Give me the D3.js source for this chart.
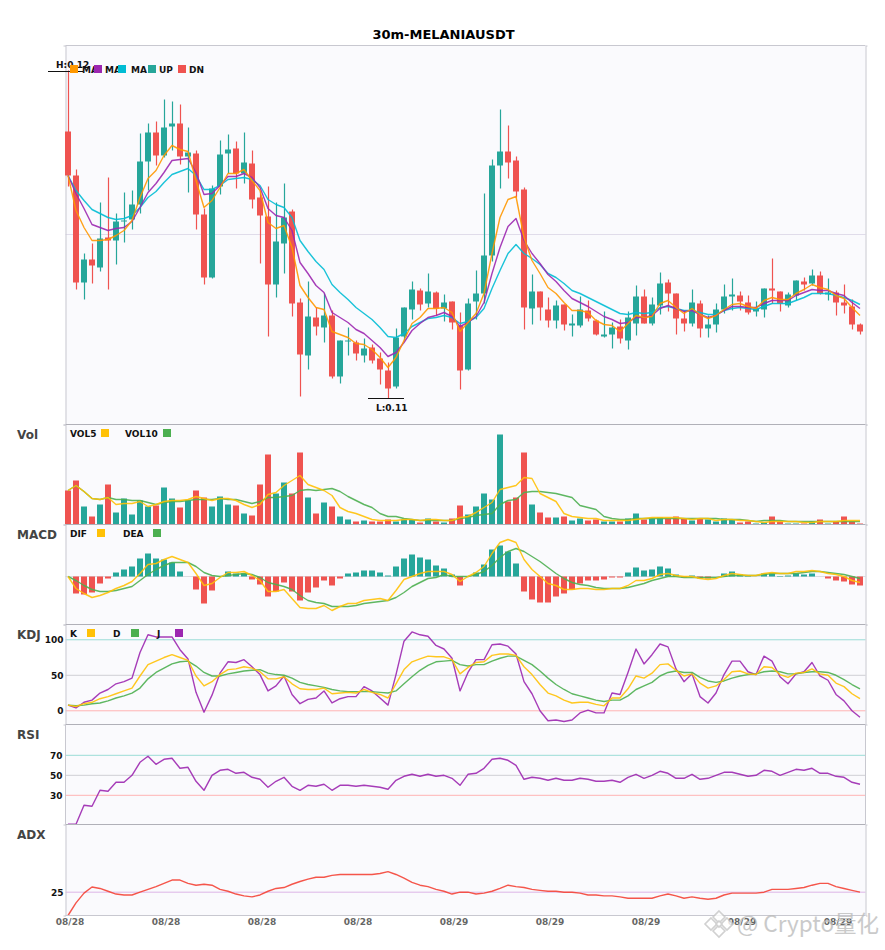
<!DOCTYPE html>
<html>
<head>
<meta charset="utf-8">
<script src="https://cdn.jsdelivr.net/npm/d3@7"></script>
<style>
  html, body { margin: 0; padding: 0; background: #fff; }
  svg { display: block; font-family: "DejaVu Sans", sans-serif; }
</style>
</head>
<body>
<svg id="chart"></svg>
<script>
const chartTitle = '30m-MELANIAUSDT';
const tickDates = ['08/28','08/28','08/28','08/28','08/29','08/29','08/29','08/29','08/29'];
const tickEvery = 12;

const openPrices = [0.11534,0.11446,0.11232,0.11278,0.11262,0.11322,0.11316,0.11354,0.11358,0.11388,0.11474,0.11532,0.11486,0.11544,0.11550,0.11484,0.11490,0.11368,0.11242,0.11424,0.11490,0.11500,0.11450,0.11470,0.11402,0.11364,0.11228,0.11310,0.11374,0.11192,0.11086,0.11162,0.11142,0.11166,0.11044,0.11114,0.11112,0.11086,0.11102,0.11080,0.11056,0.11024,0.11124,0.11178,0.11216,0.11190,0.11212,0.11180,0.11194,0.11146,0.11058,0.11194,0.11210,0.11286,0.11466,0.11494,0.11476,0.11418,0.11180,0.11214,0.11178,0.11156,0.11188,0.11146,0.11146,0.11176,0.11156,0.11124,0.11128,0.11144,0.11116,0.11150,0.11204,0.11150,0.11186,0.11232,0.11210,0.11160,0.11150,0.11190,0.11140,0.11148,0.11178,0.11204,0.11206,0.11192,0.11174,0.11178,0.11220,0.11214,0.11186,0.11206,0.11234,0.11230,0.11246,0.11208,0.11212,0.11192,0.11184,0.11148];
const closePrices = [0.11446,0.11232,0.11278,0.11266,0.11320,0.11316,0.11354,0.11356,0.11388,0.11474,0.11532,0.11486,0.11542,0.11550,0.11484,0.11492,0.11368,0.11242,0.11420,0.11488,0.11498,0.11450,0.11472,0.11398,0.11366,0.11228,0.11314,0.11362,0.11190,0.11088,0.11164,0.11144,0.11166,0.11044,0.11116,0.11116,0.11090,0.11100,0.11076,0.11058,0.11020,0.11122,0.11182,0.11218,0.11188,0.11214,0.11180,0.11192,0.11152,0.11056,0.11190,0.11210,0.11286,0.11466,0.11494,0.11472,0.11414,0.11182,0.11214,0.11182,0.11156,0.11186,0.11148,0.11150,0.11178,0.11160,0.11128,0.11128,0.11142,0.11120,0.11162,0.11204,0.11150,0.11188,0.11230,0.11210,0.11160,0.11150,0.11192,0.11140,0.11148,0.11178,0.11204,0.11208,0.11194,0.11172,0.11180,0.11220,0.11216,0.11190,0.11208,0.11236,0.11228,0.11246,0.11210,0.11212,0.11192,0.11186,0.11148,0.11134];
const highPrices = [0.11656,0.11458,0.11290,0.11310,0.11392,0.11442,0.11370,0.11412,0.11416,0.11530,0.11550,0.11554,0.11598,0.11594,0.11588,0.11542,0.11496,0.11380,0.11426,0.11516,0.11528,0.11514,0.11532,0.11496,0.11416,0.11424,0.11392,0.11430,0.11378,0.11200,0.11234,0.11182,0.11210,0.11176,0.11116,0.11142,0.11116,0.11120,0.11108,0.11092,0.11072,0.11140,0.11182,0.11234,0.11220,0.11250,0.11214,0.11208,0.11194,0.11172,0.11200,0.11256,0.11410,0.11478,0.11578,0.11546,0.11484,0.11422,0.11248,0.11214,0.11202,0.11196,0.11188,0.11168,0.11204,0.11196,0.11158,0.11174,0.11152,0.11158,0.11174,0.11226,0.11218,0.11202,0.11252,0.11238,0.11210,0.11176,0.11218,0.11196,0.11166,0.11190,0.11228,0.11240,0.11214,0.11206,0.11194,0.11220,0.11280,0.11214,0.11212,0.11236,0.11242,0.11258,0.11254,0.11240,0.11216,0.11228,0.11198,0.11150];
const lowPrices = [0.11424,0.11218,0.11198,0.11230,0.11254,0.11218,0.11268,0.11312,0.11338,0.11370,0.11416,0.11466,0.11482,0.11496,0.11468,0.11412,0.11338,0.11228,0.11240,0.11408,0.11450,0.11420,0.11430,0.11380,0.11270,0.11124,0.11202,0.11250,0.11164,0.11004,0.11058,0.11126,0.11112,0.11040,0.11030,0.11086,0.11076,0.11072,0.11070,0.11028,0.11000,0.11020,0.11116,0.11158,0.11176,0.11182,0.11166,0.11154,0.11138,0.11018,0.11056,0.11158,0.11190,0.11274,0.11420,0.11440,0.11402,0.11138,0.11148,0.11156,0.11142,0.11140,0.11136,0.11124,0.11142,0.11154,0.11126,0.11122,0.11100,0.11110,0.11098,0.11126,0.11150,0.11146,0.11168,0.11174,0.11128,0.11134,0.11144,0.11122,0.11122,0.11132,0.11170,0.11176,0.11176,0.11168,0.11164,0.11162,0.11190,0.11174,0.11182,0.11196,0.11216,0.11226,0.11208,0.11196,0.11166,0.11170,0.11138,0.11128];
const ma5 = [0.11446,0.11376,0.11342,0.11316,0.11316,0.11318,0.11326,0.11336,0.11356,0.11402,0.11440,0.11456,0.11486,0.11506,0.11498,0.11494,0.11436,0.11382,0.11396,0.11422,0.11450,0.11450,0.11458,0.11436,0.11416,0.11352,0.11340,0.11346,0.11302,0.11226,0.11202,0.11182,0.11178,0.11134,0.11128,0.11122,0.11110,0.11108,0.11098,0.11082,0.11062,0.11082,0.11116,0.11150,0.11162,0.11180,0.11180,0.11182,0.11172,0.11134,0.11152,0.11170,0.11210,0.11290,0.11362,0.11398,0.11404,0.11322,0.11276,0.11250,0.11222,0.11210,0.11192,0.11176,0.11176,0.11172,0.11156,0.11148,0.11146,0.11134,0.11150,0.11166,0.11162,0.11164,0.11190,0.11196,0.11182,0.11170,0.11180,0.11168,0.11160,0.11166,0.11178,0.11188,0.11190,0.11184,0.11180,0.11196,0.11202,0.11198,0.11198,0.11210,0.11218,0.11228,0.11222,0.11218,0.11206,0.11200,0.11182,0.11166];
const ma10 = [0.11446,0.11410,0.11380,0.11348,0.11342,0.11336,0.11340,0.11342,0.11354,0.11382,0.11412,0.11430,0.11452,0.11476,0.11478,0.11480,0.11452,0.11408,0.11410,0.11426,0.11444,0.11444,0.11450,0.11442,0.11422,0.11380,0.11366,0.11362,0.11336,0.11272,0.11250,0.11226,0.11212,0.11172,0.11162,0.11152,0.11138,0.11130,0.11116,0.11102,0.11084,0.11092,0.11112,0.11136,0.11150,0.11162,0.11166,0.11172,0.11164,0.11144,0.11152,0.11164,0.11192,0.11250,0.11302,0.11344,0.11360,0.11316,0.11290,0.11270,0.11248,0.11234,0.11216,0.11200,0.11192,0.11184,0.11174,0.11164,0.11158,0.11150,0.11152,0.11162,0.11162,0.11166,0.11180,0.11186,0.11180,0.11174,0.11176,0.11168,0.11162,0.11166,0.11176,0.11184,0.11184,0.11182,0.11182,0.11190,0.11196,0.11196,0.11196,0.11206,0.11212,0.11218,0.11216,0.11216,0.11210,0.11206,0.11192,0.11180];
const ma20 = [0.11446,0.11416,0.11396,0.11378,0.11370,0.11362,0.11358,0.11360,0.11366,0.11382,0.11402,0.11414,0.11432,0.11448,0.11454,0.11460,0.11446,0.11418,0.11418,0.11426,0.11438,0.11440,0.11442,0.11438,0.11426,0.11398,0.11388,0.11382,0.11362,0.11316,0.11294,0.11274,0.11258,0.11228,0.11212,0.11198,0.11182,0.11170,0.11158,0.11142,0.11124,0.11122,0.11130,0.11144,0.11152,0.11160,0.11162,0.11166,0.11162,0.11150,0.11154,0.11162,0.11180,0.11220,0.11256,0.11290,0.11308,0.11290,0.11280,0.11268,0.11250,0.11242,0.11230,0.11216,0.11210,0.11202,0.11194,0.11186,0.11178,0.11170,0.11168,0.11172,0.11170,0.11172,0.11182,0.11184,0.11180,0.11176,0.11176,0.11172,0.11168,0.11168,0.11176,0.11180,0.11182,0.11180,0.11178,0.11184,0.11190,0.11190,0.11190,0.11196,0.11202,0.11210,0.11210,0.11210,0.11206,0.11202,0.11196,0.11188];

const volumes = [34,44,18,8,20,40,12,26,10,24,18,19,37,26,17,24,34,27,18,28,20,19,11,9,40,70,31,42,31,72,27,11,22,18,8,5,3,4,3,3,5,3,5,5,2,6,3,2,6,19,10,18,31,25,90,23,27,72,20,12,7,7,8,4,6,4,5,3,3,3,6,11,5,6,7,6,8,6,4,6,5,3,6,5,2,3,1,2,8,3,1,1,1,3,5,1,3,8,3,1];
const vol5 = [34,39,33,26,25,27,20,21,21,23,18,20,23,24,24,25,28,26,24,26,26,24,20,17,20,30,32,39,44,49,40,37,34,29,17,13,11,8,5,4,4,4,5,5,4,5,5,4,4,7,8,12,17,22,35,37,39,47,46,31,27,23,11,8,7,6,6,4,4,4,4,5,6,7,7,7,7,6,5,6,6,4,5,5,4,4,3,2,3,3,3,3,2,2,3,3,3,4,4,4];
const vol10 = [34,39,33,26,25,27,25,25,24,24,22,20,22,23,23,24,25,25,25,26,25,25,23,21,23,27,27,28,29,34,35,34,35,36,33,28,24,20,17,11,8,8,6,5,4,4,4,4,4,6,7,9,10,11,20,24,25,32,33,33,32,31,29,27,19,17,15,8,6,5,5,6,6,6,6,6,6,6,6,6,6,6,5,5,5,4,3,4,4,4,3,3,3,3,3,3,3,3,3,3];

const macdHist = [0,-17,-18,-16,-7,-2,4,7,10,18,23,18,17,14,5,0,-13,-27,-14,0,5,3,3,-3,-8,-20,-15,-6,-15,-24,-16,-11,-4,-9,-2,3,4,6,6,4,1,10,18,22,19,17,11,8,2,-9,0,4,12,27,31,25,13,-15,-23,-26,-26,-20,-17,-13,-7,-4,-4,-3,-1,-1,4,9,6,7,10,8,2,-1,1,-2,-2,0,3,5,2,0.5,0,3,3,0.5,1,3,2,3,0,-2,-4,-5,-8,-9];
const macdDif = [0,-12,-17,-21,-19,-16,-12,-9,-5,3,12,13,17,20,17,14,3,-9,-7,-1,4,4,5,1,-4,-15,-15,-13,-22,-31,-32,-32,-29,-34,-30,-27,-27,-24,-23,-22,-24,-14,-3,0,3,5,5,5,2,-5,0,4,10,23,34,37,34,17,7,0,-7,-9,-13,-13,-12,-12,-13,-13,-12,-12,-9,-4,-4,-2,2,3,1,0,0,-2,-3,-2,1,3,2,1,1,3,4,3,3,5,5,6,5,3,2,0,-4,-6];
const macdDea = [0,-4,-9,-13,-15,-15,-14,-12,-10,-4,2,7,11,14,14,14,10,4,1,0,1,2,3,2,-1,-6,-8,-10,-13,-19,-24,-26,-27,-30,-30,-30,-29,-27,-26,-25,-24,-21,-16,-10,-6,-2,-1,2,0,0,0,2,5,11,19,25,28,25,20,15,9,3,-2,-6,-8,-9,-11,-12,-12,-12,-11,-9,-7,-4,-2,0,0,-1,-1,-1,-1,-1,0,1,1,1,1,2,3,3,3,3,4,5,5,4,3,2,0,-2];

const kdjK = [8,6,10,12,17,20,24,28,32,49,65,70,75,79,75,71,49,35,41,51,58,59,62,60,55,45,45,48,38,31,30,30,32,24,25,26,25,30,26,23,18,38,58,69,73,77,76,76,72,52,61,68,69,78,80,80,78,62,51,37,25,21,15,11,12,12,9,7,18,18,31,49,46,53,65,66,57,49,52,39,32,35,44,55,56,52,51,62,61,51,47,53,54,59,52,50,39,34,24,17];
const kdjD = [8,7,8,10,11,14,18,21,25,32,45,54,60,66,69,70,63,54,49,49,52,54,56,57,58,53,51,50,46,40,37,35,33,30,28,27,27,27,27,26,25,28,38,48,57,64,69,70,71,65,63,65,65,70,74,77,77,71,65,56,46,37,30,24,21,18,15,13,15,15,21,30,35,40,49,54,56,54,54,47,42,40,42,46,49,51,52,55,56,55,52,52,54,55,55,54,50,44,37,31];
const kdjJ = [8,4,12,15,25,30,38,41,46,82,107,104,104,104,86,73,26,-2,22,53,69,68,72,62,51,28,35,49,23,10,16,18,28,11,17,20,20,34,28,18,8,51,98,111,107,105,92,87,74,28,54,72,72,93,94,91,80,41,24,0,-14,-13,-15,-13,-3,1,-3,-3,25,23,54,87,66,79,94,90,59,41,52,20,11,25,51,70,70,55,51,77,70,48,38,52,55,68,49,43,23,14,0,-9];
const rsiValues = [1,1,20,19,35,34,43,43,50,63,69,61,66,67,57,58,44,35,50,55,56,52,53,48,46,38,44,48,39,35,40,39,41,35,40,40,39,40,39,38,36,45,49,51,49,51,49,50,47,40,51,52,57,66,67,65,60,46,48,47,45,47,45,45,47,46,44,44,45,43,48,51,47,50,54,52,47,47,51,46,47,50,53,53,51,49,50,55,54,50,53,56,55,57,52,52,49,48,43,41];
const adxValues = [0,13.5,24,30.6,29,26,23,22,22,25,28,31,34.5,38,38,34.5,32.5,33.5,32.5,28,26,23,21,20,22,26,29,30,33.5,36.5,39,41,41,43,44,44,44,44,44,45,47,44,40,35.5,32.5,31,28,26,23,25,25,23,24,26,29,32.5,31,30,28,27,26,26,25,25,24,22,22,21,21,20,18.5,18.5,18.5,18.5,21,23,21,18.5,20,18.5,17.5,18.5,22,24,24,24,24,25,28,28,28,29,30,32.5,34.5,34.5,31,29,27,25];

const kdjLevels = [100, 50, 0];
const rsiLevels = [70, 50, 30];
const adxLevels = [25];

const colors = {
    up: '#26a69a', dn: '#ef5350',
    ma5: '#ff9800', ma10: '#9c27b0', ma20: '#00bcd4',
    yellow: '#ffc107', green: '#4caf50', purple: '#9c27b0', adx: '#f44336',
    hi: '#9adcd6', mid: '#cfcfd4', lo: '#ffb3b3', adxLevel: '#dcb6e6'
};

const width = 885, height = 950;
const left = 65.5, right = 865.5;

const svg = d3.select('#chart').attr('width', width).attr('height', height);

const xScale = d3.scaleBand()
    .domain(d3.range(openPrices.length))
    .range([64, 864])
    .paddingInner(0.25)
    .paddingOuter(0.125);
const xc = i => xScale(i) + xScale.bandwidth() / 2;

// Panel frame, returns the group everything else gets appended to
function makePanel(top, bottom, yScale, borderColor) {
    const g = svg.append('g');
    g.append('rect')
        .attr('x', left).attr('y', top)
        .attr('width', right - left).attr('height', bottom - top)
        .attr('fill', '#fafafd');
    g.append('line')
        .attr('x1', left).attr('x2', right)
        .attr('y1', top).attr('y2', top)
        .attr('stroke', borderColor);
    return g;
}

function drawEdges(g, yScale, levels) {
    const axisL = g.append('g')
        .attr('transform', `translate(${left},0)`)
        .call(d3.axisLeft(yScale).tickValues(levels).tickSizeInner(0).tickSizeOuter(2).tickPadding(2));
    axisL.select('.domain').attr('stroke', '#c8c8d0');
    axisL.selectAll('text')
        .attr('font-family', '"DejaVu Sans"')
        .attr('font-size', 9)
        .attr('font-weight', 'bold')
        .attr('fill', '#111');
    const axisR = g.append('g')
        .attr('transform', `translate(${right},0)`)
        .call(d3.axisRight(yScale).tickValues([]).tickSizeOuter(2));
    axisR.select('.domain').attr('stroke', '#c8c8d0');
}

function drawLevels(g, yScale, levels, levelColors) {
    g.selectAll('.level')
        .data(levels)
        .enter()
        .append('line')
        .attr('class', 'level')
        .attr('x1', left).attr('x2', right)
        .attr('y1', d => yScale(d)).attr('y2', d => yScale(d))
        .attr('stroke', (d, i) => levelColors[i])
        .attr('stroke-width', 1);
}

function drawLine(g, values, yScale, color, sw) {
    const line = d3.line().x((d, i) => xc(i)).y(d => yScale(d));
    g.append('path')
        .attr('d', line(values))
        .attr('fill', 'none')
        .attr('stroke', color)
        .attr('stroke-width', sw || 1.4)
        .attr('stroke-opacity', 0.9)
        .attr('stroke-linejoin', 'round');
}

function drawBars(g, values, yScale, base, colorFn) {
    g.selectAll('.bar')
        .data(values)
        .enter()
        .append('rect')
        .attr('class', 'bar')
        .attr('x', (d, i) => xScale(i))
        .attr('y', d => Math.min(yScale(d), yScale(base)))
        .attr('width', xScale.bandwidth())
        .attr('height', d => Math.abs(yScale(d) - yScale(base)))
        .attr('fill', colorFn);
}

function label(text, x, y, opts) {
    opts = opts || {};
    return svg.append('text')
        .attr('x', x).attr('y', y)
        .attr('font-size', opts.size || 9)
        .attr('font-weight', 'bold')
        .attr('fill', opts.fill || '#111')
        .attr('text-anchor', opts.anchor || 'start')
        .text(text);
}

function legendItem(text, textX, swatchX, swatchY, baseline, color) {
    label(text, textX, baseline);
    svg.append('rect')
        .attr('x', swatchX).attr('y', swatchY)
        .attr('width', 8).attr('height', 8)
        .attr('fill', color);
}

const candleColor = i => closePrices[i] >= openPrices[i] ? colors.up : colors.dn;

// Main candle panel
const priceY = d3.scaleLinear().domain([0.10948, 0.11706]).range([424.5, 45.5]);
const mainG = makePanel(45.5, 424.5, priceY, '#c8c8d0');
drawLevels(mainG, priceY, [0.11328], ['#e0dcea']);
drawEdges(mainG, priceY, []);

mainG.selectAll('.wick')
    .data(openPrices)
    .enter()
    .append('line')
    .attr('class', 'wick')
    .attr('x1', (d, i) => xc(i) + 0.5).attr('x2', (d, i) => xc(i) + 0.5)
    .attr('y1', (d, i) => priceY(highPrices[i]))
    .attr('y2', (d, i) => priceY(lowPrices[i]))
    .attr('stroke', (d, i) => candleColor(i))
    .attr('stroke-width', 1.2);

mainG.selectAll('.candle')
    .data(openPrices)
    .enter()
    .append('rect')
    .attr('class', 'candle')
    .attr('x', (d, i) => xScale(i))
    .attr('y', (d, i) => priceY(Math.max(openPrices[i], closePrices[i])))
    .attr('width', xScale.bandwidth())
    .attr('height', (d, i) => Math.abs(priceY(openPrices[i]) - priceY(closePrices[i])))
    .attr('fill', (d, i) => candleColor(i));

drawLine(mainG, ma20, priceY, colors.ma20);
drawLine(mainG, ma10, priceY, colors.ma10);
drawLine(mainG, ma5, priceY, colors.ma5);

// High / low markers
const maxHigh = d3.max(highPrices), minLow = d3.min(lowPrices);
const hiIdx = highPrices.indexOf(maxHigh), loIdx = lowPrices.indexOf(minLow);
svg.append('line')
    .attr('x1', xc(hiIdx) - 20).attr('x2', xc(hiIdx) + 15)
    .attr('y1', priceY(maxHigh) + 1).attr('y2', priceY(maxHigh) + 1)
    .attr('stroke', '#111');
label('H:' + maxHigh.toFixed(2), xc(hiIdx) - 12, priceY(maxHigh) - 3);
svg.append('line')
    .attr('x1', xc(loIdx) - 20).attr('x2', xc(loIdx) + 16)
    .attr('y1', priceY(minLow)).attr('y2', priceY(minLow))
    .attr('stroke', '#111');
label('L:' + minLow.toFixed(2), xc(loIdx) - 12, priceY(minLow) + 12);

legendItem('MA', 82, 70, 65, 72.5, colors.ma5);
legendItem('MA', 105, 94, 65, 72.5, colors.ma10);
legendItem('MA', 131, 118, 65, 72.5, colors.ma20);
legendItem('UP', 159, 148, 65, 72.5, colors.up);
legendItem('DN', 189, 178, 65, 72.5, colors.dn);

// Volume
const volY = d3.scaleLinear().domain([0, 100]).range([524.5, 424.5]);
const volG = makePanel(424.5, 524.5, volY, '#b0b0b8');
drawEdges(volG, volY, []);
drawBars(volG, volumes, volY, 0, (d, i) => candleColor(i));
drawLine(volG, vol10, volY, colors.green);
drawLine(volG, vol5, volY, colors.yellow);
label('Vol', 17, 439, { size: 12, fill: '#444' });
legendItem('VOL5', 70, 101, 429, 437, colors.yellow);
legendItem('VOL10', 125, 163, 429, 437, colors.green);

// MACD
const macdY = d3.scaleLinear().domain([-48, 52]).range([624.5, 524.5]);
const macdG = makePanel(524.5, 624.5, macdY, '#b0b0b8');
drawLevels(macdG, macdY, [0], ['#dcdce0']);
drawEdges(macdG, macdY, []);
drawBars(macdG, macdHist, macdY, 0, d => d >= 0 ? colors.up : colors.dn);
drawLine(macdG, macdDea, macdY, colors.green);
drawLine(macdG, macdDif, macdY, colors.yellow);
label('MACD', 17, 539, { size: 12, fill: '#444' });
legendItem('DIF', 70, 97, 529, 537, colors.yellow);
legendItem('DEA', 123, 153, 529, 537, colors.green);

// KDJ
const kdjY = d3.scaleLinear().domain([-19.3, 121.5]).range([724.5, 624.5]);
const kdjG = makePanel(624.5, 724.5, kdjY, '#b0b0b8');
drawLevels(kdjG, kdjY, kdjLevels, [colors.hi, colors.mid, colors.lo]);
drawEdges(kdjG, kdjY, kdjLevels);
drawLine(kdjG, kdjJ, kdjY, colors.purple);
drawLine(kdjG, kdjD, kdjY, colors.green);
drawLine(kdjG, kdjK, kdjY, colors.yellow);
label('KDJ', 17, 639, { size: 12, fill: '#444' });
legendItem('K', 70, 87, 629, 637, colors.yellow);
legendItem('D', 113, 131, 629, 637, colors.green);
legendItem('J', 157, 175, 629, 637, colors.purple);

// RSI
const rsiY = d3.scaleLinear().domain([0, 100]).range([825.3, 725.3]);
const rsiG = makePanel(724.5, 824.5, rsiY, '#b0b0b8');
drawLevels(rsiG, rsiY, rsiLevels, [colors.hi, colors.mid, colors.lo]);
rsiG.append('g')
    .attr('transform', `translate(${left},0)`)
    .call(d3.axisLeft(rsiY).tickValues(rsiLevels).tickSize(0).tickPadding(3))
    .call(a => a.select('.domain').remove())
    .selectAll('text')
    .attr('font-family', '"DejaVu Sans"').attr('font-size', 9)
    .attr('font-weight', 'bold').attr('fill', '#111');
rsiG.append('line').attr('x1', left).attr('x2', left).attr('y1', 724.5).attr('y2', 824.5).attr('stroke', '#c8c8d0');
rsiG.append('line').attr('x1', right).attr('x2', right).attr('y1', 724.5).attr('y2', 824.5).attr('stroke', '#c8c8d0');
drawLine(rsiG, rsiValues, rsiY, colors.purple);
label('RSI', 17, 739, { size: 12, fill: '#444' });

// ADX
const adxY = d3.scaleLinear().domain([0, 97.6]).range([915.5, 824.5]);
const adxG = makePanel(824.5, 915.5, adxY, '#b0b0b8');
drawLevels(adxG, adxY, adxLevels, [colors.adxLevel]);
drawEdges(adxG, adxY, adxLevels);
drawLine(adxG, adxValues, adxY, colors.adx);
label('ADX', 17, 839, { size: 12, fill: '#444' });
adxG.append('line').attr('x1', left).attr('x2', right).attr('y1', 915.5).attr('y2', 915.5).attr('stroke', '#c8c8d0');

// X axis, one date every tickEvery candles
const xAxisG = svg.append('g')
    .attr('transform', 'translate(2,915.5)')
    .call(d3.axisBottom(xScale)
        .tickValues(tickDates.map((d, i) => i * tickEvery))
        .tickFormat((d, i) => tickDates[i])
        .tickSize(0)
        .tickPadding(3));
xAxisG.select('.domain').remove();
xAxisG.selectAll('text')
    .attr('font-family', '"DejaVu Sans"')
    .attr('font-size', 9)
    .attr('font-weight', 'bold')
    .attr('fill', '#666');

label(chartTitle, 443.5, 38.5, { size: 13, anchor: 'middle', fill: '#000' });

// Watermark over the bottom right corner
const mark = svg.append('g').attr('opacity', 0.8);
[[719, 917, 6], [711, 924, 6], [727, 924, 6], [719, 931, 6], [719, 924, 3]].forEach(d => {
    mark.append('path')
        .attr('d', `M${d[0]} ${d[1] - d[2]}L${d[0] + d[2]} ${d[1]}L${d[0]} ${d[1] + d[2]}L${d[0] - d[2]} ${d[1]}Z`)
        .attr('fill', '#fff')
        .attr('stroke', '#c6c6c6')
        .attr('stroke-width', 1.6);
});
mark.append('text')
    .attr('x', 737).attr('y', 932)
    .attr('font-family', '"Noto Sans CJK SC", "Noto Sans", sans-serif')
    .attr('font-size', 22.5)
    .attr('fill', '#bdbdbd')
    .text('@ Crypto量化');
</script>
</body>
</html>
